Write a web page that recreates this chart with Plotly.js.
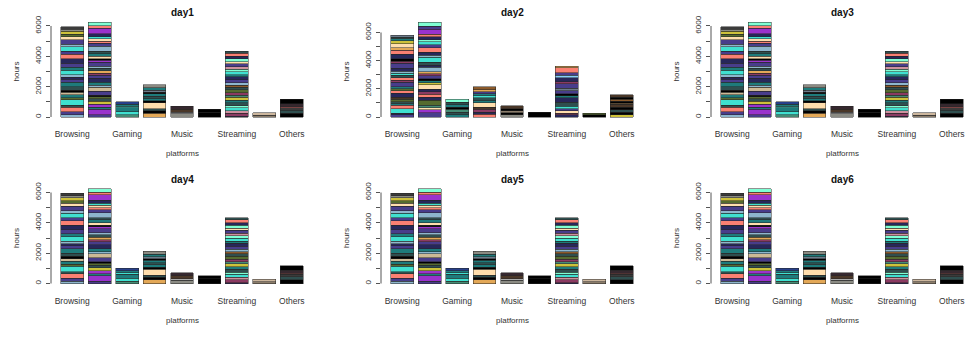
<!DOCTYPE html>
<html><head><meta charset="utf-8">
<script src="https://cdn.plot.ly/plotly-3.0.1.min.js"></script>
<style>html,body{margin:0;padding:0;background:#fff;}#chart{width:975px;height:361px;}</style>
</head><body><div id="chart"></div>
<script>
// ---- data ----
const dayNames = ['day1','day2','day3','day4','day5','day6'];
const dayDataset = ['A','B','A','A','A','A'];
const barLabels = ['Browsing','','Gaming','','Music','','Streaming','','Others'];
const yTickVals = [0,1000,2000,3000,4000,5000,6000];
const yTickText = ['0','','2000','','4000','','6000'];

const palette = ['#000000','#483D8B','#40E0D0','#FA8072','#FFDEAD','#556B2F','#1E7B7B','#2F4F4F',
  '#9A32CD','#7FFFD4','#8DB6CD','#CDC13A','#4A3728','#8B8B83','#E3A857','#27275A','#8B3A62','#458B74',
  '#CDBA96','#3B3B3B','#A9A9A9','#8B7D6B','#CDB79E','#CD5C5C','#36282F','#8B5A2B','#6C7B8B','#27408B',
  '#CD919E','#87CEFA'];

// dataset A (day1, day3-day6): segment heights (bottom to top) and palette indices per bar
const segHeightsA = [
  [150,200,280,150,350,150,200,150,150,200,300,200,150,150,300,200,250,300,300,200,300,150,320,200,150,200,150,150],
  [150,350,150,200,200,150,150,100,250,250,150,200,250,200,150,150,150,150,250,150,100,150,200,150,300,200,150,150,150,200,350,150,250],
  [150,200,250,100,150,150],
  [250,150,150,375,150,150,150,150,100,150,150,200],
  [200,100,200,225],
  [300,225],
  [50,200,150,200,150,200,150,200,150,150,200,150,150,150,200,200,150,200,150,150,200,150,200,150,200,150],
  [120,160],
  [250,200,150,80,200,300]
];
const segColorsA = [
  [10,1,3,7,2,5,6,18,0,7,6,1,15,10,2,6,1,15,3,1,2,10,1,4,5,11,13,19],
  [1,8,6,8,11,7,5,0,1,18,10,6,15,1,16,14,7,10,1,8,0,4,6,7,10,1,3,4,2,15,8,3,9],
  [17,2,6,2,6,27],
  [14,0,7,4,0,6,7,6,0,26,6,13],
  [13,20,12,24],
  [0,0],
  [15,16,28,2,9,7,6,11,17,16,5,7,25,10,1,15,6,2,9,28,1,4,9,15,3,7],
  [21,22],
  [0,7,19,23,24,0]
];
// dataset B (day2)
const segHeightsB = [
  [150,100,350,250,100,150,150,150,300,150,150,150,300,150,200,150,150,150,200,350,150,200,300,300,150,300,200,150,100,150],
  [300,200,150,200,350,200,230,150,200,300,150,150,150,200,150,150,300,150,200,350,150,200,350,200,200,150,200,200,350,200,300],
  [200,150,200,150,200,150,210],
  [200,150,200,150,300,200,150,150,150,150,150,210],
  [150,150,150,150,185],
  [335],
  [150,100,200,150,150,300,300,150,150,200,200,300,150,300,150,200,340,100],
  [150,115],
  [150,200,150,200,200,80,150,120,150,170]
];
const segColorsB = [
  [1,15,2,3,6,7,5,12,15,3,5,6,1,16,3,7,2,10,15,1,16,0,15,3,14,4,11,6,7,26],
  [1,8,4,17,5,15,3,16,15,4,11,6,0,1,16,14,10,15,7,2,10,15,3,1,2,9,15,3,8,1,9],
  [6,7,17,0,6,7,9],
  [3,15,16,12,4,6,7,2,6,1,14,25],
  [13,0,21,0,12],
  [0],
  [15,16,4,1,2,7,15,6,0,1,26,1,16,15,29,1,3,14],
  [0,5],
  [11,0,7,0,12,14,0,25,0,12]
];

// ---- build ----
const W = 975, H = 361;
const FONT = 'Liberation Sans, Arial, sans-serif';
const TXT = '#333333';
const colLeft = [51, 381, 711], colRight = [313, 643, 973];
const rowTop = [18.4, 184.9], rowBot = [120.8, 287.3];
const datasets = {A: [segHeightsA, segColorsA], B: [segHeightsB, segColorsB]};

const traces = [];
const layout = {
  width: W, height: H, margin: {l:0, r:0, t:0, b:0},
  paper_bgcolor: '#fff', plot_bgcolor: '#fff',
  barmode: 'stack', bargap: 0.2/1.2, showlegend: false,
  font: {family: FONT, size: 8.5, color: TXT},
  annotations: [], shapes: []
};

dayNames.forEach((name, i) => {
  const row = i < 3 ? 0 : 1, col = i % 3;
  const n = i === 0 ? '' : String(i + 1);
  const [hs, cs] = datasets[dayDataset[i]];
  const totals = hs.map(a => a.reduce((s, v) => s + v, 0));
  const ymax = Math.max(...totals);
  const maxSeg = Math.max(...hs.map(a => a.length));
  for (let k = 0; k < maxSeg; k++) {
    const xs = [], ys = [], cols = [];
    hs.forEach((a, j) => { if (k < a.length) { xs.push(j); ys.push(a[k]); cols.push(palette[cs[j][k]]); } });
    traces.push({
      type: 'bar', x: xs, y: ys, width: 1/1.2,
      marker: {color: cols, line: {color: '#262626', width: 0.5}},
      xaxis: 'x' + n, yaxis: 'y' + n, hoverinfo: 'skip', showlegend: false
    });
  }
  const xd = [colLeft[col] / W, colRight[col] / W];
  const yd = [1 - rowBot[row] / H, 1 - rowTop[row] / H];
  layout['xaxis' + n] = {
    domain: xd, anchor: 'y' + n, range: [-0.77, 8.77], fixedrange: true,
    showgrid: false, zeroline: false, showline: false, ticks: '',
    tickmode: 'array', tickvals: barLabels.map((l, j) => j).filter(j => barLabels[j] !== ''),
    ticktext: barLabels.filter(l => l !== ''),
    ticklabelstandoff: 7, tickfont: {family: FONT, size: 8.5, color: TXT}
  };
  layout['yaxis' + n] = {
    domain: yd, anchor: 'x' + n, range: [-0.04 * ymax, 1.04 * ymax], fixedrange: true,
    showgrid: false, zeroline: false, showline: false,
    ticks: 'outside', ticklen: 4, tickwidth: 1, tickcolor: '#555',
    tickmode: 'array', tickvals: yTickVals, ticktext: yTickText, tickangle: -90,
    ticklabelstandoff: 2, tickfont: {family: FONT, size: 8, color: TXT}
  };
  layout.shapes.push({type: 'line', xref: 'x' + n + ' domain', yref: 'y' + n,
    x0: 0, x1: 0, y0: yTickVals[0], y1: yTickVals[yTickVals.length - 1],
    line: {color: '#555', width: 1}});
  const cx = (colLeft[col] + colRight[col]) / 2;
  layout.annotations.push({text: '<b>' + name + '</b>', xref: 'paper', yref: 'paper',
    x: cx / W, y: 1 - (13 + row * 166.5) / H, xanchor: 'center', yanchor: 'middle',
    showarrow: false, font: {family: FONT, size: 10, color: '#111'}});
  layout.annotations.push({text: 'platforms', xref: 'paper', yref: 'paper',
    x: cx / W, y: 1 - (154 + row * 166.5) / H, xanchor: 'center', yanchor: 'middle',
    showarrow: false, font: {family: FONT, size: 8, color: TXT}});
  layout.annotations.push({text: 'hours', xref: 'paper', yref: 'paper', textangle: -90,
    x: (colLeft[col] - 35) / W, y: 1 - (71.5 + row * 166.5) / H, xanchor: 'center', yanchor: 'middle',
    showarrow: false, font: {family: FONT, size: 8, color: TXT}});
});

Plotly.newPlot('chart', traces, layout, {staticPlot: true, displayModeBar: false});
</script></body></html>
